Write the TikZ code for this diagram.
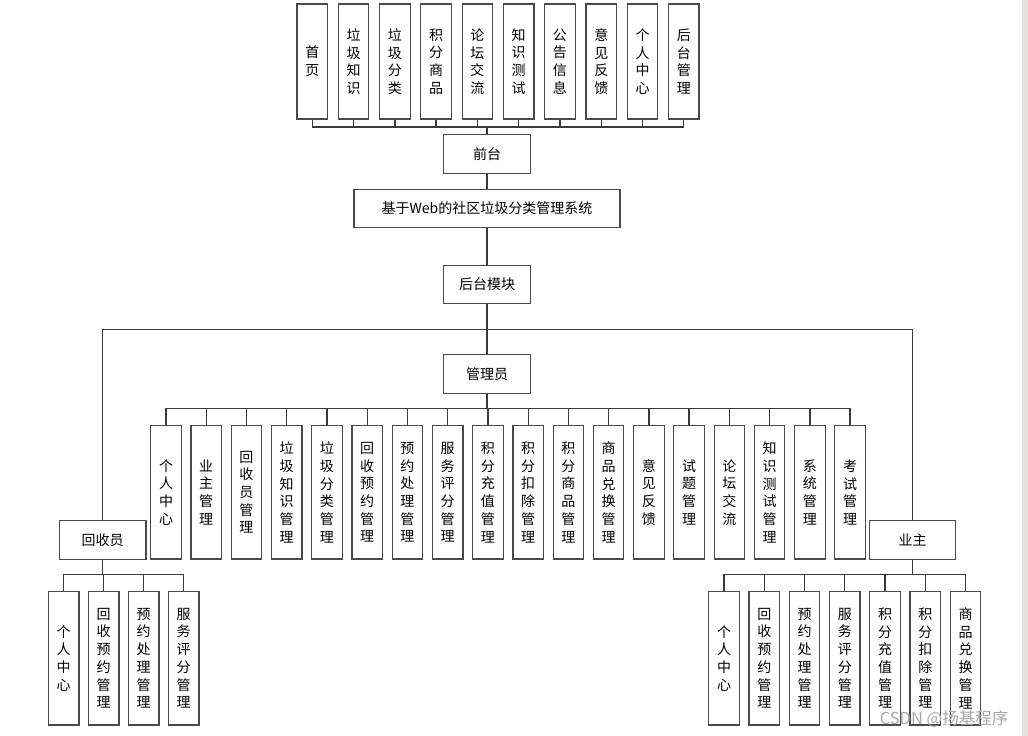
\documentclass[tikz,border=0pt]{standalone}
\usepackage{fontspec}
\newfontfamily\cjk{Noto Sans CJK SC}
\definecolor{boxc}{HTML}{4A4A4A}
\definecolor{linec}{HTML}{3A3A3A}
\definecolor{stripc}{HTML}{E4E2E0}
\definecolor{markc}{HTML}{A8A8A8}
\tikzset{
  box/.style={draw=boxc, line width=1.2pt, fill=white, inner sep=0pt, align=center,
              font=\cjk\fontsize{14}{17.7}\selectfont},
  hbox/.style={box, minimum width=86.5pt, minimum height=38.5pt},
  vbox/.style={box, minimum width=30.5pt},
  link/.style={draw=linec, line width=1.3pt}
}
\begin{document}
\begin{tikzpicture}[x=1pt,y=-1pt]
\useasboundingbox (0,0) rectangle (1028,736);
\fill[stripc] (1022,0) rectangle (1028,736);

% ---------- front end ----------
\foreach \t [count=\i from 0] in {{首\\页},{垃\\圾\\知\\识},{垃\\圾\\分\\类},{积\\分\\商\\品},
  {论\\坛\\交\\流},{知\\识\\测\\试},{公\\告\\信\\息},{意\\见\\反\\馈},{个\\人\\中\\心},{后\\台\\管\\理}}
  \node[vbox, minimum height=115pt] (t\i) at ({312.3+41.28*\i},61.5) {\t};

\node[hbox] (front) at (487,154) {前台};
\node[box, minimum width=266pt, minimum height=38.5pt] (sys) at (487,208.5) {基于Web的社区垃圾分类管理系统};
\node[hbox] (back) at (487,284.5) {后台模块};
\node[hbox] (admin) at (487,374) {管理员};
\node[hbox] (rec) at (102.7,540) {回收员};
\node[hbox] (own) at (912.5,540) {业主};

\draw[link] (front.north) -- ++(0,-7.2) coordinate (tbus);
\foreach \i in {0,...,9} \draw[link] (t\i.south) |- (tbus);
\draw[link] (front.south) -- (sys.north);
\draw[link] (sys.south) -- (back.north);
\draw[link] (back.south) -- (admin.north);
\path (back.south) -- ++(0,25.3) coordinate (rbus);
\draw[link] (rbus) -| (rec.north);
\draw[link] (rbus) -| (own.north);

% ---------- administrator ----------
\foreach \t [count=\i from 0] in {{个\\人\\中\\心},{业\\主\\管\\理},{回\\收\\员\\管\\理},
  {垃\\圾\\知\\识\\管\\理},{垃\\圾\\分\\类\\管\\理},{回\\收\\预\\约\\管\\理},{预\\约\\处\\理\\管\\理},
  {服\\务\\评\\分\\管\\理},{积\\分\\充\\值\\管\\理},{积\\分\\扣\\除\\管\\理},{积\\分\\商\\品\\管\\理},
  {商\\品\\兑\\换\\管\\理},{意\\见\\反\\馈},{试\\题\\管\\理},{论\\坛\\交\\流},
  {知\\识\\测\\试\\管\\理},{系\\统\\管\\理},{考\\试\\管\\理}}
  \node[vbox, minimum height=133.3pt] (a\i) at ({166+40.24*\i},492.3) {\t};
\draw[link] (admin.south) -- ++(0,14.4) coordinate (abus);
\foreach \i in {0,...,17} \draw[link] (abus) -| (a\i.north);

% ---------- recycler ----------
\foreach \t [count=\i from 0] in {{个\\人\\中\\心},{回\\收\\预\\约\\管\\理},
  {预\\约\\处\\理\\管\\理},{服\\务\\评\\分\\管\\理}}
  \node[vbox, minimum height=133.7pt] (r\i) at ({63.7+40*\i},658.2) {\t};
\draw[link] (rec.south) -- ++(0,14.4) coordinate (cbus);
\foreach \i in {0,...,3} \draw[link] (cbus) -| (r\i.north);

% ---------- owner ----------
\foreach \t [count=\i from 0] in {{个\\人\\中\\心},{回\\收\\预\\约\\管\\理},
  {预\\约\\处\\理\\管\\理},{服\\务\\评\\分\\管\\理},{积\\分\\充\\值\\管\\理},
  {积\\分\\扣\\除\\管\\理},{商\\品\\兑\\换\\管\\理}}
  \node[vbox, minimum height=133.7pt] (o\i) at ({724+40.25*\i},658.2) {\t};
\draw[link] (own.south) -- ++(0,14.4) coordinate (obus);
\foreach \i in {0,...,6} \draw[link] (obus) -| (o\i.north);

% watermark
\node[text=markc, font=\cjk\fontsize{16.5}{18}\selectfont, inner sep=0pt] (mark) at (944,718.5) {CSDN @扬基程序};
\end{tikzpicture}
\end{document}
